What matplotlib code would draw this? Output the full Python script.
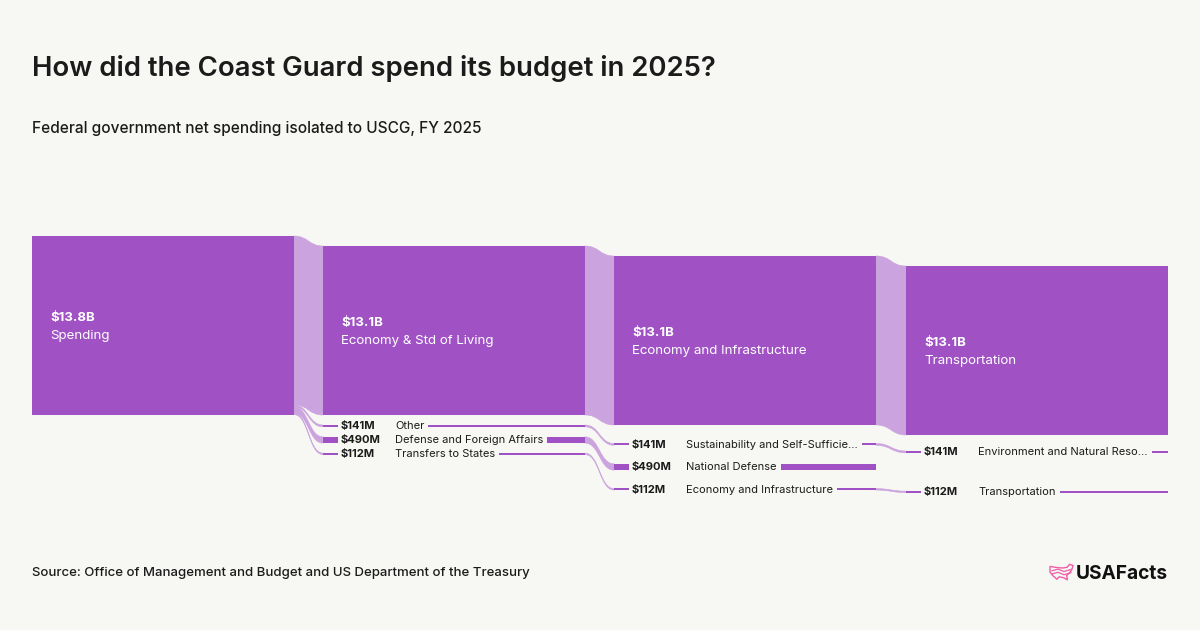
import matplotlib
matplotlib.use("Agg")
import matplotlib.pyplot as plt
from matplotlib.path import Path
from matplotlib.patches import PathPatch, Rectangle, Polygon

# ---------------- data ----------------
col0_names = ["Spending"]
col1_names = ["Economy & Std of Living", "Other", "Defense and Foreign Affairs", "Transfers to States"]
col2_names = ["Economy and Infrastructure", "Sustainability and Self-Sufficie...", "National Defense",
              "Economy and Infrastructure"]
col3_names = ["Transportation", "Environment and Natural Reso...", "Transportation"]

col0_values = [13.843]                    # $ billions
col1_values = [13.1, 0.141, 0.490, 0.112]
col2_values = [13.1, 0.141, 0.490, 0.112]
col3_values = [13.1, 0.141, 0.112]

# links: (source column, source index) -> (target column, target index)
links = [
    ((0, 0), (1, 0)), ((0, 0), (1, 1)), ((0, 0), (1, 2)), ((0, 0), (1, 3)),
    ((1, 0), (2, 0)), ((1, 1), (2, 1)), ((1, 2), (2, 2)), ((1, 3), (2, 3)),
    ((2, 0), (3, 0)), ((2, 1), (3, 1)), ((2, 3), (3, 2)),
]

title = "How did the Coast Guard spend its budget in 2025?"
subtitle = "Federal government net spending isolated to USCG, FY 2025"
source = "Source: Office of Management and Budget and US Department of the Treasury"

names = [col0_names, col1_names, col2_names, col3_names]
values = [col0_values, col1_values, col2_values, col3_values]

# ---------------- style / layout ----------------
BG = "#F7F7F3"
NODE = "#A052C4"
LINK = "#CBA3DE"
TEXT = "#1B1B1B"
FONT = ["Inter", "DejaVu Sans"]

PX_PER_B = 12.9
NODE_W = 262
COL_X = [32, 323, 614, 906]
MAIN_TOP = [236, 246, 256, 266]
GAP = [0, 10, 18.5, 16]
FOLLOW = [None, None, None, 2.5]
MIN_BAR = 1.8


def fmt(v):
    if v >= 1:
        return f"${v:.1f}B"
    return f"${v * 1000:.0f}M"


fig = plt.figure(figsize=(12, 6.3), dpi=100, facecolor=BG)
ax = fig.add_axes([0, 0, 1, 1])
ax.set_xlim(0, 1200)
ax.set_ylim(630, 0)
ax.axis("off")
ax.set_facecolor(BG)

# source of each node (for follow layout)
src_of = {}
for s, t in links:
    src_of.setdefault(t, s)

tops = []
for c, vals in enumerate(values):
    col_tops = []
    bottom = None
    for i, v in enumerate(vals):
        h = v * PX_PER_B
        if i == 0:
            y = MAIN_TOP[c]
        else:
            y = bottom + GAP[c]
            if FOLLOW[c] is not None and (c, i) in src_of:
                sc, si = src_of[(c, i)]
                y = max(y, tops[sc][si] + FOLLOW[c])
        col_tops.append(y)
        bottom = y + h
    tops.append(col_tops)


def band(x0, y0a, y0b, x1, y1a, y1b, color, z=1):
    xm = (x0 + x1) / 2
    verts = [(x0, y0a), (xm, y0a), (xm, y1a), (x1, y1a),
             (x1, y1b), (xm, y1b), (xm, y0b), (x0, y0b), (x0, y0a)]
    codes = [Path.MOVETO, Path.CURVE4, Path.CURVE4, Path.CURVE4,
             Path.LINETO, Path.CURVE4, Path.CURVE4, Path.CURVE4, Path.CLOSEPOLY]
    ax.add_patch(PathPatch(Path(verts, codes), facecolor=color, edgecolor=color,
                           lw=0.4, zorder=z))


out_off = {}
in_off = {}
for (sc, si), (tc, ti) in links:
    v = values[tc][ti]
    h = v * PX_PER_B
    so = out_off.get((sc, si), 0.0)
    to = in_off.get((tc, ti), 0.0)
    y0 = tops[sc][si] + so
    y1 = tops[tc][ti] + to
    band(COL_X[sc] + NODE_W, y0, y0 + h, COL_X[tc], y1, y1 + h, LINK)
    out_off[(sc, si)] = so + h
    in_off[(tc, ti)] = to + h

# nodes
small_labels = []
for c, vals in enumerate(values):
    x = COL_X[c]
    for i, v in enumerate(vals):
        y = tops[c][i]
        h = v * PX_PER_B
        cy = y + h / 2
        if i == 0:
            ax.add_patch(Rectangle((x, y), NODE_W, h, facecolor=NODE, edgecolor="none", zorder=2))
            ax.text(x + 18, cy - 4, fmt(v), color="white", fontsize=9.5, fontweight="bold",
                    family=FONT, va="baseline", ha="left", zorder=5)
            ax.text(x + 18, cy + 13.5, names[c][i], color="white", fontsize=9.6,
                    family=FONT, va="baseline", ha="left", zorder=5)
        else:
            hb = max(h, MIN_BAR)
            ax.add_patch(Rectangle((x, cy - hb / 2), NODE_W, hb, facecolor=NODE,
                                   edgecolor="none", zorder=2))
            t1 = ax.text(x + 18, cy + 3.5, fmt(v), color=TEXT, fontsize=8, fontweight="bold",
                         family=FONT, va="baseline", ha="left", zorder=5)
            t2 = ax.text(x + 72, cy + 3.5, names[c][i], color=TEXT, fontsize=8,
                         family=FONT, va="baseline", ha="left", zorder=5)
            small_labels.append((x, cy, t1, t2))

fig.canvas.draw()
renderer = fig.canvas.get_renderer()
inv = ax.transData.inverted()
for x, cy, t1, t2 in small_labels:
    bb = t2.get_window_extent(renderer)
    xe = inv.transform((bb.x1, bb.y1))[0]
    left = x + 15
    right = xe + 4
    ax.add_patch(Rectangle((left, cy - 7), right - left, 14, facecolor=BG,
                           edgecolor="none", zorder=3))

# titles
ax.text(32, 76, title, fontsize=19.8, fontweight="semibold", family=FONT, color=TEXT,
        va="baseline", ha="left")
ax.text(32, 133, subtitle, fontsize=11.1, fontweight="medium", family=FONT, color=TEXT,
        va="baseline", ha="left")
ax.text(32, 576, source, fontsize=9.5, fontweight="medium", family=FONT, color=TEXT,
        va="baseline", ha="left")

# logo
ax.text(1168, 579, "USAFacts", fontsize=13.8, fontweight="bold", family=FONT, color="#111111",
        va="baseline", ha="right")
lx, ly, lw, lh = 1050, 564, 23, 16
shape = [(0, 0.15), (0.3, 0.22), (0.55, 0.25), (0.75, 0.2), (0.85, 0.02), (1.0, 0.1),
         (0.95, 0.35), (0.85, 0.55), (0.72, 0.72), (0.76, 1.0), (0.6, 0.86), (0.4, 0.8),
         (0.3, 0.95), (0.12, 0.72), (0.0, 0.5)]
ax.add_patch(Polygon([(lx + px * lw, ly + py * lh) for px, py in shape], closed=True,
                     facecolor="none", edgecolor="#EE5FA7", lw=1.0))
for k, yy in enumerate([0.42, 0.62]):
    ax.plot([lx + 2, lx + 8, lx + 14, lx + 21], [ly + yy * lh, ly + (yy - 0.1) * lh,
            ly + (yy + 0.05) * lh, ly + (yy - 0.08) * lh], color="#EE5FA7", lw=0.9)

fig.savefig("out.png", dpi=100, facecolor=BG)
